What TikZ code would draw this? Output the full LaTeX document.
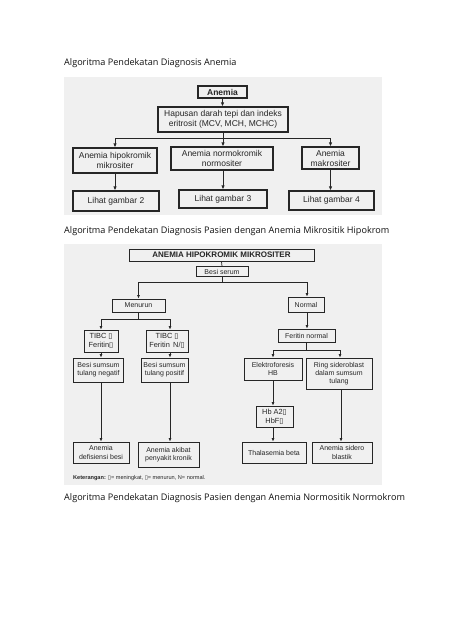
\documentclass[tikz,border=0pt]{standalone}
\usepackage{fontspec}
\setmainfont{Liberation Sans}
\newfontfamily\capfont{Open Sans}
\newfontfamily\symf{DejaVu Sans}
\usetikzlibrary{arrows.meta}
\newcommand\bxg{{\symf ▯}}
\definecolor{bgc}{HTML}{F0F0F0}
\definecolor{ink}{HTML}{262626}
\definecolor{capc}{HTML}{111111}
\tikzset{
  captext/.style={anchor=west,inner sep=0pt,text=capc,font=\capfont\fontsize{9.1}{10}\selectfont},
  boxA/.style={draw=ink,line width=1.2pt,text=ink,align=center,inner sep=1pt,
    font=\fontsize{8.5}{10}\selectfont},
  boxB/.style={draw=ink,line width=0.85pt,text=ink,align=center,inner sep=0.5pt,
    font=\fontsize{7}{8.2}\selectfont},
  conA/.style={draw=ink,line width=0.9pt},
  conB/.style={draw=ink,line width=0.75pt},
  arrA/.style={conA,-{Latex[length=4pt,width=3.5pt]}},
  arrB/.style={conB,-{Latex[length=3.5pt,width=3pt]}},
}
\begin{document}
\begin{tikzpicture}[x=1pt,y=-1pt]
\useasboundingbox[fill=white] (0,0) rectangle (474,632);
% captions
\node[captext] (c1) at (64,63) {Algoritma Pendekatan Diagnosis Anemia};
\node[captext] (c2) at (64,231) {Algoritma Pendekatan Diagnosis Pasien dengan Anemia Mikrositik Hipokrom};
\node[captext] (c3) at (64,498) {Algoritma Pendekatan Diagnosis Pasien dengan Anemia Normositik Normokrom};
% backgrounds
\fill[bgc] (64,77) rectangle (382,215);
\fill[bgc] (64,244) rectangle (382,485);
% ---------- figure 1
\node[boxA,minimum width=49pt,minimum height=12pt,font=\bfseries\fontsize{8.5}{10}\selectfont] (an) at (222.5,92) {Anemia};
\node[boxA,minimum width=130pt,minimum height=25pt] (hap) at (223,119.5) {Hapusan darah tepi dan indeks\\eritrosit (MCV, MCH, MCHC)};
\node[boxA,minimum width=84pt,minimum height=25pt] (hipo) at (115,160.5) {Anemia hipokromik\\mikrositer};
\node[boxA,minimum width=102pt,minimum height=23pt] (normo) at (222,158.5) {Anemia normokromik\\normositer};
\node[boxA,minimum width=57pt,minimum height=22pt] (makro) at (330.5,158) {Anemia\\makrositer};
\node[boxA,minimum width=86pt,minimum height=20pt] (l2) at (116,201) {Lihat gambar 2};
\node[boxA,minimum width=88pt,minimum height=18pt] (l3) at (223,199) {Lihat gambar 3};
\node[boxA,minimum width=85pt,minimum height=19pt] (l4) at (331.5,200.5) {Lihat gambar 4};
\coordinate (j1) at (223,138);
\draw[arrA] (an.south) -- (an.south |- hap.north);
\draw[conA] (hap.south) -- (j1);
\draw[conA] (hipo.north |- j1) -- (makro.north |- j1);
\draw[arrA] (hipo.north |- j1) -- (hipo.north);
\draw[arrA] (j1) -- (j1 |- normo.north);
\draw[arrA] (makro.north |- j1) -- (makro.north);
\draw[arrA] (hipo.south) -- (hipo.south |- l2.north);
\draw[arrA] (j1 |- normo.south) -- (j1 |- l3.north);
\draw[arrA] (makro.south) -- (makro.south |- l4.north);
% ---------- figure 2
\node[boxB,minimum width=185pt,minimum height=12pt,font=\bfseries\fontsize{8}{9}\selectfont] (tt) at (221.5,255) {ANEMIA HIPOKROMIK MIKROSITER};
\node[boxB,minimum width=52pt,minimum height=9.5pt] (bs) at (222,271.5) {Besi serum};
\node[boxB,minimum width=53pt,minimum height=13pt] (men) at (138.5,305.5) {Menurun};
\node[boxB,minimum width=36pt,minimum height=15pt] (nor) at (306,304.5) {Normal};
\node[boxB,minimum width=34pt,minimum height=22pt,font=\fontsize{7.4}{9}\selectfont] (t1) at (101,341) {TIBC \bxg\\Feritin\bxg};
\node[boxB,minimum width=42pt,minimum height=22pt,font=\fontsize{7.4}{9}\selectfont] (t2) at (167,341) {TIBC \bxg\\Feritin\, N/\bxg};
\node[boxB,minimum width=50pt,minimum height=24pt] (s1) at (98.5,370) {Besi sumsum\\tulang negatif};
\node[boxB,minimum width=47pt,minimum height=24pt] (s2) at (164.5,370) {Besi sumsum\\tulang positif};
\node[boxB,minimum width=56pt,minimum height=21pt] (ad) at (101,452.5) {Anemia\\defisiensi besi};
\node[boxB,minimum width=61pt,minimum height=25pt] (ak) at (168.5,454.5) {Anemia akibat\\penyakit kronik};
\node[boxB,minimum width=57pt,minimum height=13pt] (fn) at (306.5,335.5) {Feritin normal};
\node[boxB,minimum width=58pt,minimum height=22pt] (el) at (273,369) {Elektroforesis\\HB};
\node[boxB,minimum width=66pt,minimum height=31pt] (ring) at (339,373.5) {Ring sideroblast\\dalam sumsum\\tulang};
\node[boxB,minimum width=37pt,minimum height=21pt,font=\fontsize{7.4}{9}\selectfont] (hb) at (274.5,416.5) {Hb A2\bxg\\HbF\bxg};
\node[boxB,minimum width=64pt,minimum height=21pt] (th) at (274,452.5) {Thalasemia beta};
\node[boxB,minimum width=60pt,minimum height=21pt] (sb) at (342,452.5) {Anemia sidero\\blastik};
\node[anchor=west,inner sep=0pt,text=ink,font=\fontsize{5.6}{7}\selectfont] (ket) at (73,478) {\textbf{Keterangan:} \bxg= meningkat, \bxg= menurun, N= normal.};
% connectors fig 2
\coordinate (j2) at (222,282);
\coordinate (j3) at (138.5,319);
\coordinate (j4) at (306.5,350);
\coordinate (kL) at (101,319);
\coordinate (kR) at (170,319);
\coordinate (mL) at (273,350);
\coordinate (mR) at (340,350);
\coordinate (nR) at (307,282);
\coordinate (rx) at (341,0);
\draw[conB] (tt.south) -- (bs.north);
\draw[conB] (bs.south) -- (j2);
\draw[conB] (men.north |- j2) -- (nR);
\draw[arrB] (men.north |- j2) -- (men.north);
\draw[arrB] (nR) -- (nR |- nor.north);
\draw[conB] (men.south) -- (j3);
\draw[conB] (kL) -- (kR);
\draw[arrB] (kL) -- (kL |- t1.north);
\draw[arrB] (kR) -- (kR |- t2.north);
\draw[arrB] (kL |- t1.south) -- (kL |- s1.north);
\draw[arrB] (kR |- t2.south) -- (kR |- s2.north);
\draw[arrB] (kL |- s1.south) -- (kL |- ad.north);
\draw[arrB] (kR |- s2.south) -- (kR |- ak.north);
\draw[arrB] (nR |- nor.south) -- (nR |- fn.north);
\draw[conB] (fn.south) -- (j4);
\draw[conB] (mL) -- (mR);
\draw[arrB] (mL) -- (mL |- el.north);
\draw[arrB] (mR) -- (mR |- ring.north);
\draw[arrB] (mL |- el.south) -- (mL |- hb.north);
\draw[arrB] (mL |- hb.south) -- (mL |- th.north);
\draw[arrB] (rx |- ring.south) -- (rx |- sb.north);
\end{tikzpicture}
\end{document}
